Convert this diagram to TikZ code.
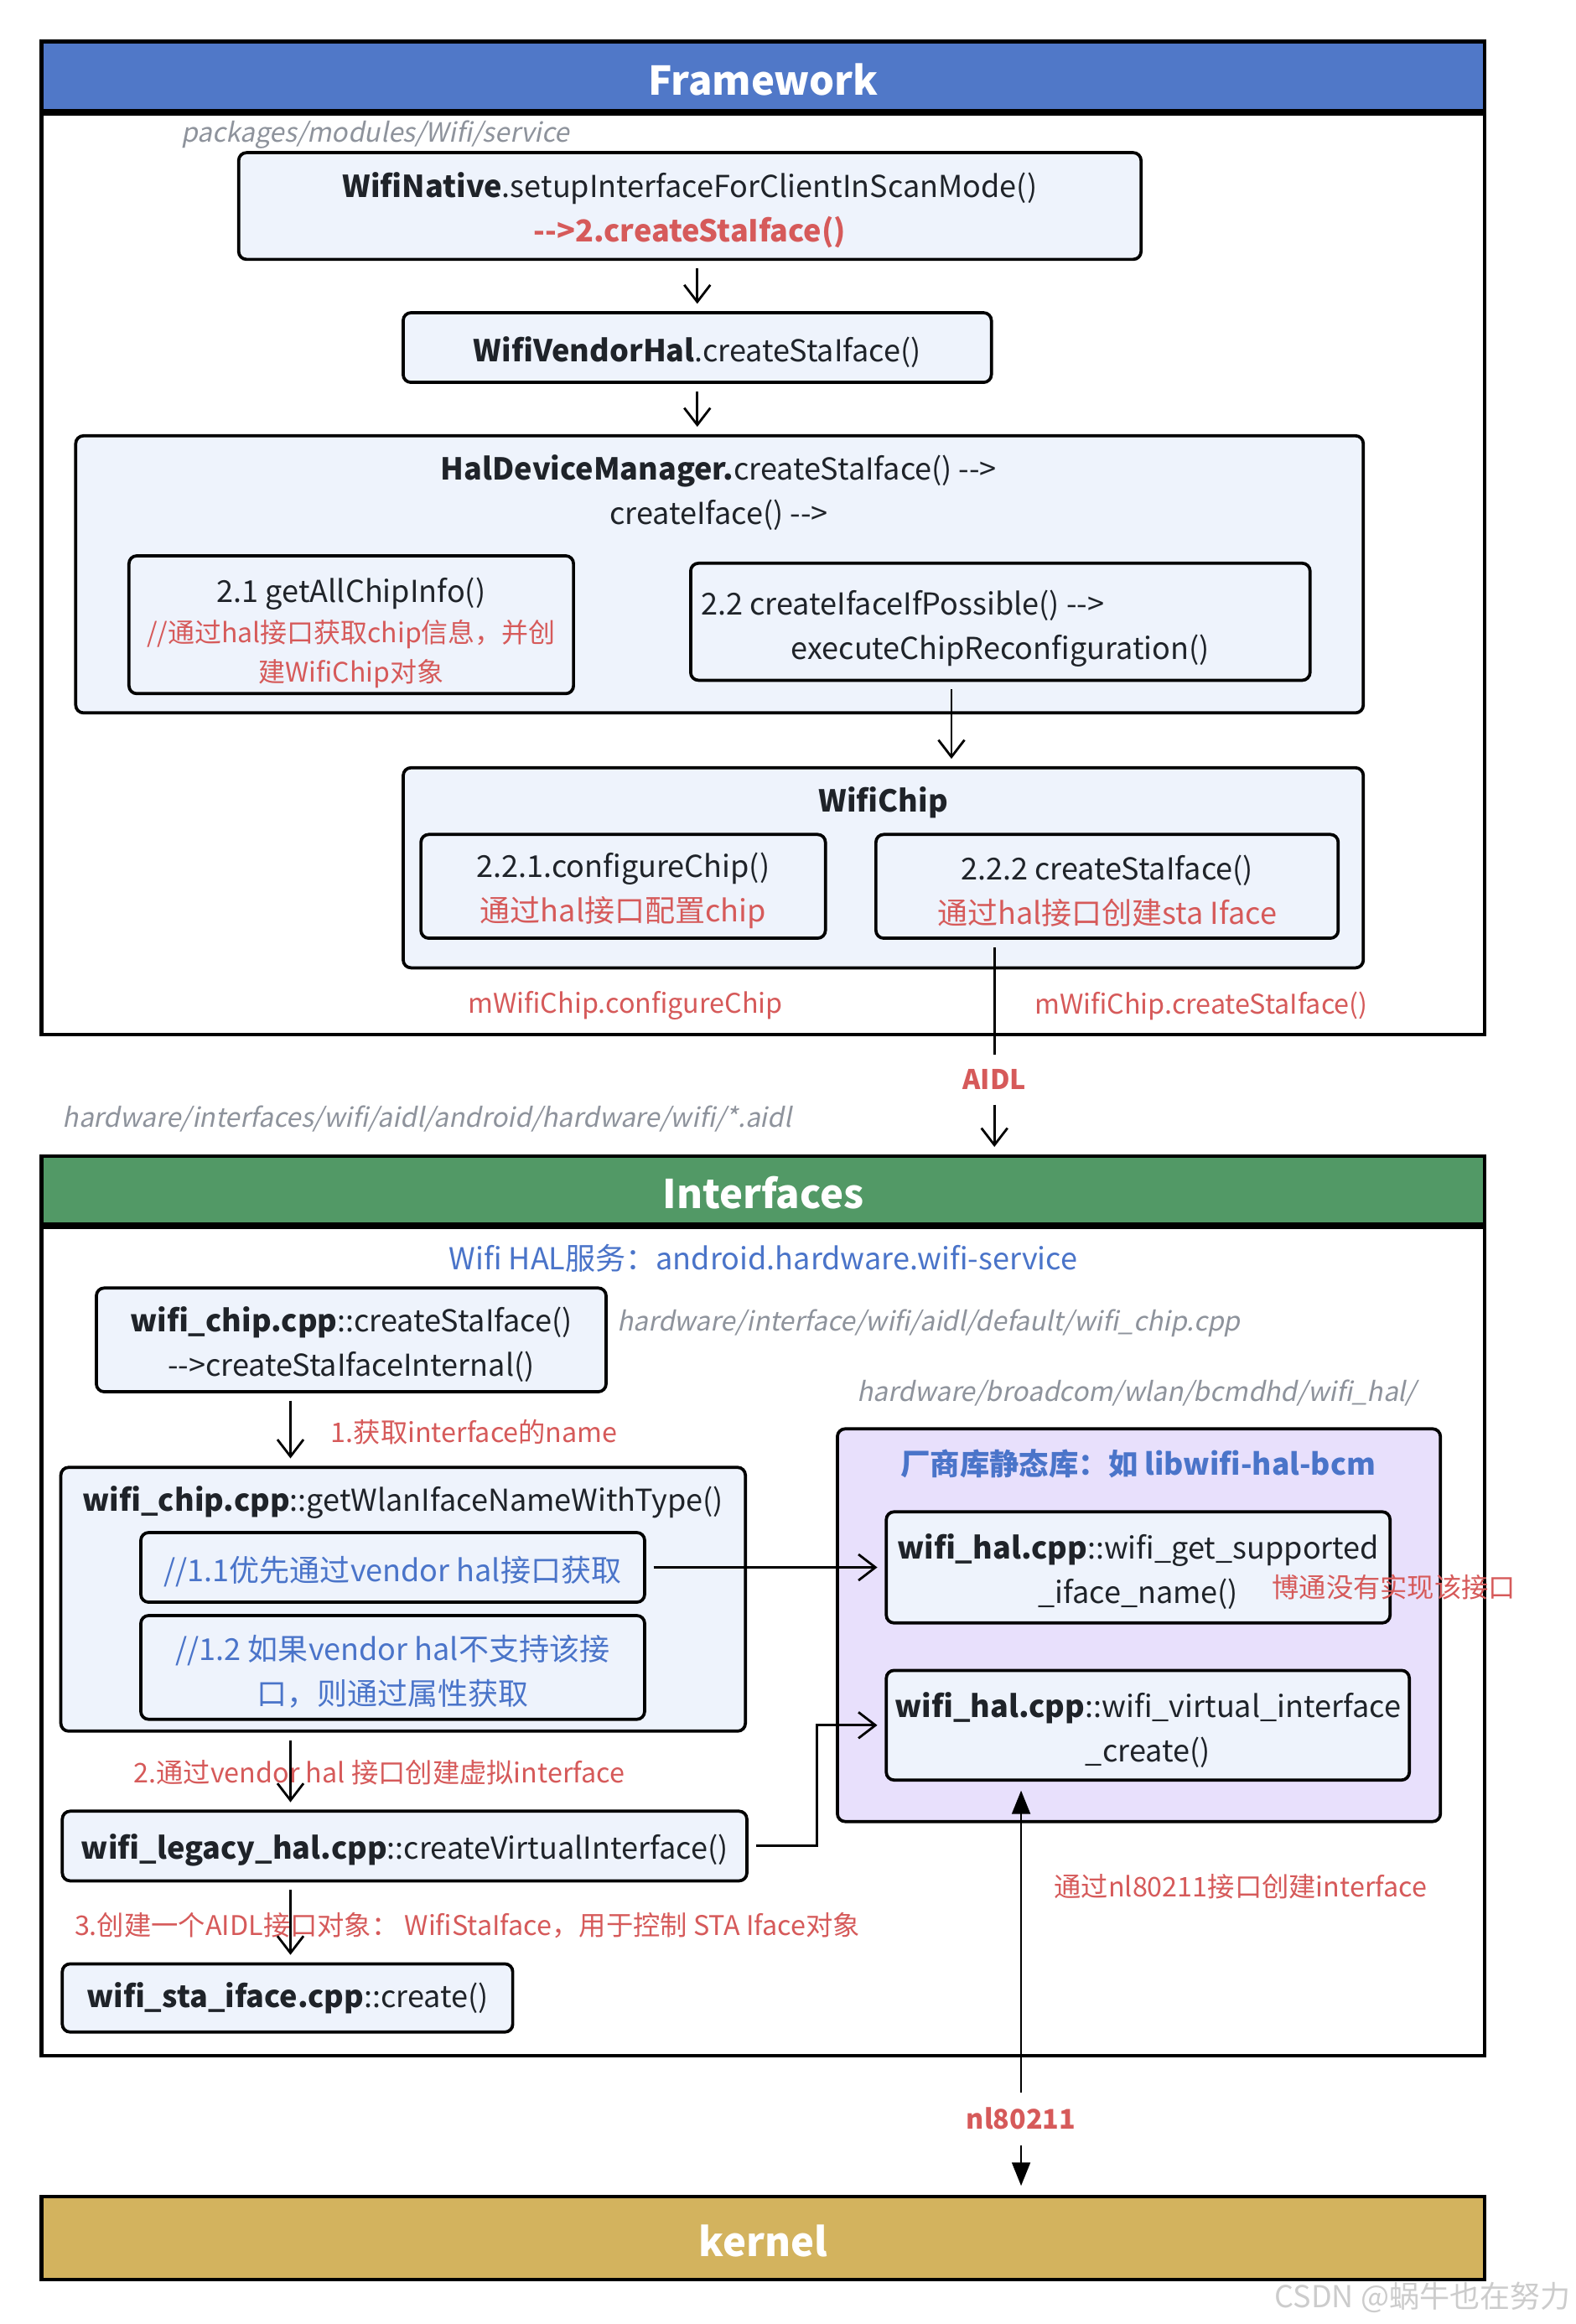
\documentclass[tikz,border=0pt]{standalone}
\usepackage{fontspec}
\setmainfont{Noto Sans CJK SC}[AutoFakeSlant=0.2]
\usetikzlibrary{arrows.meta}

\definecolor{fwblue}{HTML}{5078C8}
\definecolor{ifgreen}{HTML}{529966}
\definecolor{kgold}{HTML}{D3B35E}
\definecolor{boxfill}{HTML}{EEF3FC}
\definecolor{vendfill}{HTML}{E8E0FC}
\definecolor{notered}{HTML}{D65A5A}
\definecolor{noteblue}{HTML}{4A74C9}
\definecolor{pathgray}{HTML}{8E939C}
\definecolor{ink}{HTML}{1F2329}

\newcommand\bodyfont{\fontsize{11.6pt}{17pt}\selectfont}
\newcommand\notefont{\fontsize{10.4pt}{15.5pt}\selectfont}
\newcommand\smallred{\fontsize{10.3pt}{15pt}\selectfont}
\newcommand\pathfont{\fontsize{10.2pt}{15pt}\selectfont\itshape}
\newcommand\titlefont{\fontsize{15.2pt}{18pt}\selectfont\bfseries}
\newcommand\dd{-\kern0pt-}
\newcommand\lift{\rule{0pt}{0.46cm}}

\tikzset{
  callbox/.style={draw=black, line width=1.2pt, fill=boxfill, rounded corners=3pt,
    inner sep=0pt, align=center, text=ink, font=\bodyfont},
  layer/.style={draw=black, line width=1.4pt, fill=white, inner sep=0pt},
  band/.style={draw=black, line width=1.4pt, inner sep=0pt, text=white, font=\titlefont,
    text height=0.5cm, text depth=0pt},
  flow/.style={-{Straight Barb[length=6.5pt,width=10pt]}, line width=0.9pt,
    shorten <=0.1cm, shorten >=0.1cm},
  tri/.style={-{Triangle[length=9pt,width=7pt]}, line width=0.9pt},
  pathnote/.style={text=pathgray, font=\pathfont, inner sep=0pt},
  rednote/.style={text=notered, font=\notefont, inner sep=0pt},
}

\begin{document}
\begin{tikzpicture}[x=0.02cm, y=-0.02cm]
\useasboundingbox (0,0) rectangle (1063,1568);

% Framework
\node[layer, minimum width=19.48cm, minimum height=13.4cm] (fwframe) at (515,363) {};
\node[band, fill=fwblue, minimum width=19.48cm, minimum height=0.94cm] (fwhead) at (515,51.5) {Framework};
\draw[line width=2pt] (fwhead.south west) -- (fwhead.south east);
\node[pathnote, anchor=west] (fwpath) at (122,91) {packages/modules/Wifi/service};

\node[callbox, minimum width=12.18cm, minimum height=1.44cm] (native) at (465.5,139)
  {\lift\textbf{WifiNative}.setupInterfaceForClientInScanMode()\\ \textcolor{notered}{\textbf{\dd>2.createStaIface()}}};
\node[callbox, minimum width=7.94cm, minimum height=0.94cm] (vendorhal) at (470.5,234.5)
  {\lift\textbf{WifiVendorHal}.createStaIface()};

\node[callbox, minimum width=17.38cm, minimum height=3.74cm] (hdm) at (485.5,387.5) {};
\node[text=ink, align=center, font=\bodyfont] (hdmtitle) at (485,332.5)
  {\textbf{HalDeviceManager.}createStaIface() \dd>\\ createIface() \dd>};
\node[callbox, minimum width=6cm, minimum height=1.86cm] (allchip) at (237,421.5)
  {\rule{0pt}{0.56cm}2.1 getAllChipInfo()\\[-1.7pt] \textcolor{notered}{\smallred //通过hal接口获取chip信息，并创}\\[-1.7pt]
   \textcolor{notered}{\smallred 建WifiChip对象}};
\node[callbox, minimum width=8.36cm, minimum height=1.58cm] (ifposs) at (675,419.5)
  {\rule{0pt}{0.52cm}\makebox[8.08cm][l]{2.2 createIfaceIfPossible() \dd>}\\ executeChipReconfiguration()};

\node[callbox, minimum width=12.96cm, minimum height=2.7cm] (wifichip) at (596,585.5) {};
\node[text=ink, font=\bodyfont\bfseries] (chiptitle) at (596,541.5) {WifiChip};
\node[callbox, minimum width=5.46cm, minimum height=1.4cm] (cfgchip) at (420.5,598)
  {\lift 2.2.1.configureChip()\\ \textcolor{notered}{通过hal接口配置chip}};
\node[callbox, minimum width=6.24cm, minimum height=1.4cm] (mkiface) at (747,598)
  {\lift 2.2.2 createStaIface()\\ \textcolor{notered}{通过hal接口创建sta Iface}};

\node[rednote] (cfgcall) at (422,678.5) {mWifiChip.configureChip};
\node[rednote] (mkcall) at (810.5,678.5) {mWifiChip.createStaIface()};

\node[rednote, font=\notefont\bfseries, minimum height=0.66cm] (aidl) at (671,728.5) {AIDL};
\node[pathnote, anchor=west] (aidlpath) at (42,755) {hardware/interfaces/wifi/aidl/android/hardware/wifi/*.aidl};

% Interfaces
\node[layer, minimum width=19.48cm, minimum height=12.14cm] (ifframe) at (515,1083.5) {};
\node[band, fill=ifgreen, minimum width=19.48cm, minimum height=0.92cm] (ifhead) at (515,803) {Interfaces};
\draw[line width=2pt] (ifhead.south west) -- (ifhead.south east);
\node[text=noteblue, font=\bodyfont] (halsvc) at (515,849) {Wifi HAL服务：android.hardware.wifi-service};

\node[callbox, minimum width=6.88cm, minimum height=1.4cm] (chipcpp) at (237,904)
  {\lift\textbf{wifi\_chip.cpp}::createStaIface()\\ \dd>createStaIfaceInternal()};
\node[pathnote, anchor=west] (chippath) at (416,893) {hardware/interface/wifi/aidl/default/wifi\_chip.cpp};
\node[pathnote, anchor=west] (bcmpath) at (578,940) {hardware/broadcom/wlan/bcmdhd/wifi\_hal/};
\node[rednote, anchor=west] (step1) at (223,966) {1.获取interface的name};

\node[callbox, minimum width=9.24cm, minimum height=3.56cm] (wlanname) at (272,1079) {};
\node[text=ink, font=\bodyfont] (wlantitle) at (272,1013.5) {\textbf{wifi\_chip.cpp}::getWlanIfaceNameWithType()};
\node[callbox, text=noteblue, minimum width=6.8cm, minimum height=0.94cm] (vendorfirst) at (265,1057.5)
  {\lift//1.1优先通过vendor hal接口获取};
\node[callbox, text=noteblue, minimum width=6.8cm, minimum height=1.4cm] (propfallback) at (265,1125)
  {\lift//1.2 如果vendor hal不支持该接\\ 口，则通过属性获取};

\node[callbox, fill=vendfill, minimum width=8.14cm, minimum height=5.3cm] (vendorlib) at (768.5,1096.5) {};
\node[text=noteblue, font=\fontsize{11.4pt}{17pt}\selectfont\bfseries] (vendortitle) at (768,987.5) {厂商库静态库：如 libwifi-hal-bcm};
\node[callbox, minimum width=6.8cm, minimum height=1.5cm] (getsupported) at (768,1057.5)
  {\lift\textbf{wifi\_hal.cpp}::wifi\_get\_supported\\ \_iface\_name()};
\node[rednote, anchor=west] (bcmnote) at (858,1071) {博通没有实现该接口};
\node[callbox, minimum width=7.06cm, minimum height=1.48cm] (virtiface) at (774.5,1164)
  {\lift\textbf{wifi\_hal.cpp}::wifi\_virtual\_interface\\ \_create()};

\node[rednote, anchor=west] (step2) at (90,1196) {2.通过vendor hal 接口创建虚拟interface};
\node[callbox, minimum width=9.24cm, minimum height=0.94cm] (legacyhal) at (273,1245.5)
  {\lift\textbf{wifi\_legacy\_hal.cpp}::createVirtualInterface()};
\node[rednote, anchor=west] (step3) at (50,1299) {3.创建一个AIDL接口对象： WifiStaIface，用于控制 STA Iface对象};
\node[callbox, minimum width=6.08cm, minimum height=0.92cm] (staifacecpp) at (194,1348)
  {\textbf{wifi\_sta\_iface.cpp}::create()};
\node[rednote, anchor=west] (nlnote) at (711,1273) {通过nl80211接口创建interface};

\node[rednote, font=\notefont\bfseries, minimum height=0.7cm] (nl) at (689,1429.5) {nl80211};

% kernel
\node[band, fill=kgold, minimum width=19.48cm, minimum height=1.12cm] (kernel) at (515,1510) {kernel};
\node[text=black!20, font=\fontsize{11.6pt}{13pt}\selectfont, inner sep=0pt, anchor=east] (mark) at (1060,1550) {CSDN @蜗牛也在努力};

% connectors
\coordinate (chiplane) at (642,0);
\coordinate (leftlane) at (196,0);
\coordinate (bend) at (551,0);
\draw[flow] (native.south -| vendorhal.north) -- (vendorhal.north);
\draw[flow] (vendorhal.south) -- (vendorhal.south |- hdm.north);
\draw[flow] (ifposs.south -| chiplane) -- (chiplane |- wifichip.north);
\draw[line width=0.9pt, shorten <=0.1cm] (mkiface.south -| aidl) -- (aidl);
\draw[flow, shorten <=0pt] (aidl) -- (aidl |- ifframe.north);
\draw[flow] (chipcpp.south -| leftlane) -- (leftlane |- wlanname.north);
\draw[flow] (vendorfirst.east) -- (getsupported.west);
\draw[flow] (wlanname.south -| leftlane) -- (leftlane |- legacyhal.north);
\draw[flow] (legacyhal.south -| leftlane) -- (leftlane |- staifacecpp.north);
\draw[flow] (legacyhal.east) -| (bend |- virtiface.west) -- (virtiface.west);
\draw[tri, shorten >=0.12cm] (nl) -- (nl |- virtiface.south);
\draw[tri, shorten >=0.12cm] (nl) -- (nl |- kernel.north);
\end{tikzpicture}
\end{document}
